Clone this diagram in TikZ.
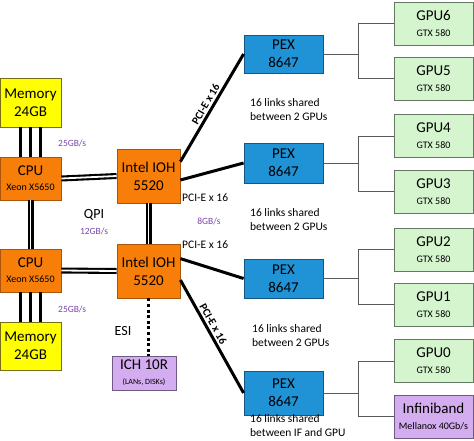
\documentclass[tikz,border=0pt]{standalone}
\usepackage{fontspec}
\setmainfont{Carlito}
\usetikzlibrary{calc}
\definecolor{orng}{RGB}{248,126,10}
\definecolor{orngd}{RGB}{170,85,10}
\definecolor{yel}{RGB}{255,255,0}
\definecolor{yeld}{RGB}{120,110,20}
\definecolor{pexb}{RGB}{32,146,214}
\definecolor{pexd}{RGB}{25,85,130}
\definecolor{gpug}{RGB}{213,245,206}
\definecolor{gpud}{RGB}{100,120,100}
\definecolor{ichp}{RGB}{212,172,240}
\definecolor{ichd}{RGB}{110,90,130}
\definecolor{purtxt}{RGB}{120,70,170}
\definecolor{treeg}{RGB}{90,90,90}
\newcommand\smtxt[1]{{\fontsize{10}{11}\selectfont #1}}
\newcommand\tnytxt[1]{{\fontsize{8}{10}\selectfont #1}}
\begin{document}
\begin{tikzpicture}[x=1pt,y=-1pt,
  bx/.style={draw, line width=0.8pt, inner sep=0pt, align=center, font=\fontsize{15}{18}\selectfont},
  orbox/.style={bx, fill=orng, draw=orngd},
  membox/.style={bx, fill=yel, draw=yeld, minimum width=61pt},
  pexbox/.style={bx, fill=pexb, draw=pexd, minimum width=79pt},
  gpubox/.style={bx, fill=gpug, draw=gpud, minimum width=79pt, minimum height=43pt, font=\fontsize{15}{16}\selectfont},
  ichbox/.style={bx, fill=ichp, draw=ichd},
  triple/.style={line width=2.7pt},
  dbl/.style={line width=2.1pt, double=white, double distance=1.8pt},
  pci/.style={line width=3pt},
  esi/.style={line width=3.5pt, dash pattern=on 3pt off 2.6pt},
  tree/.style={draw=treeg, line width=0.9pt},
  purp/.style={text=purtxt, font=\fontsize{9.5}{11}\selectfont, inner sep=0pt},
  lbl/.style={font=\fontsize{11.5}{14}\selectfont, inner sep=0pt, align=left},
  big/.style={font=\fontsize{14}{16}\selectfont, inner sep=0pt},
  rot/.style={font=\bfseries\fontsize{11}{12}\selectfont, sloped, above, inner sep=2pt}
]
\useasboundingbox (0,0) rectangle (474,440);

% left side boxes
\node[membox, minimum height=49pt] (memT) at (30.5,102.5) {Memory\\24GB};
\node[orbox, minimum width=61pt, minimum height=43pt] (cpuT) at (30.5,178.5) {CPU\\[-3pt]\smtxt{Xeon X5650}};
\node[orbox, minimum width=61pt, minimum height=43pt] (cpuB) at (30.5,270.5) {CPU\\[-3pt]\smtxt{Xeon X5650}};
\node[membox, minimum height=48pt] (memB) at (30.5,346) {Memory\\24GB};
\node[orbox, minimum width=63pt, minimum height=54pt] (iohT) at (148.5,176) {Intel IOH\\5520};
\node[orbox, minimum width=63pt, minimum height=54pt] (iohB) at (148.5,271) {Intel IOH\\5520};
\node[ichbox, minimum width=64pt, minimum height=34pt] (ich) at (144,373) {ICH 10R\\[-3pt]\tnytxt{(LANs, DISKs)}};

% PEX switches
\node[pexbox, minimum height=38pt] (pex1) at (283.5,54) {PEX\\8647};
\node[pexbox, minimum height=40pt] (pex2) at (283.5,163) {PEX\\8647};
\node[pexbox, minimum height=39pt] (pex3) at (283.5,278.5) {PEX\\8647};
\node[pexbox, minimum height=44pt] (pex4) at (283.5,393) {PEX\\8647};

% GPUs
\node[gpubox] (gpu6) at (433.5,23.5) {GPU6\\\smtxt{GTX 580}};
\node[gpubox] (gpu5) at (433.5,78.5) {GPU5\\\smtxt{GTX 580}};
\node[gpubox] (gpu4) at (433.5,136) {GPU4\\\smtxt{GTX 580}};
\node[gpubox] (gpu3) at (433.5,191.5) {GPU3\\\smtxt{GTX 580}};
\node[gpubox] (gpu2) at (433.5,249.5) {GPU2\\\smtxt{GTX 580}};
\node[gpubox] (gpu1) at (433.5,304.5) {GPU1\\\smtxt{GTX 580}};
\node[gpubox] (gpu0) at (433.5,361) {GPU0\\\smtxt{GTX 580}};
\node[gpubox, fill=ichp, draw=ichd] (ib) at (433.5,416.5) {Infiniband\\\smtxt{Mellanox 40Gb/s}};

% memory buses
\foreach \s in {-10,0,10} {
  \draw[triple] ([xshift=\s pt]memT.south) -- ([xshift=\s pt]cpuT.north);
  \draw[triple] ([xshift=\s pt]cpuB.south) -- ([xshift=\s pt]memB.north);
}
% QPI
\draw[dbl] (cpuT.east) -- (iohT.west);
\draw[dbl] (cpuB.east) -- (iohB.west);
\draw[dbl] (cpuT.south) -- (cpuB.north);
\draw[dbl] (iohT.south) -- (iohB.north);
% ESI
\draw[esi] (iohB.south) -- (iohB.south |- ich.north);

% PCI-E links
\draw[pci] ([yshift=-13pt]iohT.north east) -- node[rot, pos=0.5] (pcil1) {PCI-E x 16} (pex1.west);
\draw[pci] ([yshift=-4pt]iohT.east) -- (pex2.west);
\draw[pci] ([yshift=-15pt]iohB.north east) -- (pex3.west);
\draw[pci] ([yshift=-9pt]iohB.east) -- node[rot, pos=0.42] (pcil4) {PCI-E x 16} (pex4.west);

% trees
\draw[tree] (pex1.east) -- ++(35,0) coordinate (j1);
\draw[tree] (gpu6.west) -| (j1) |- (gpu5.west);
\draw[tree] (pex2.east) -- ++(35,0) coordinate (j2);
\draw[tree] (gpu4.west) -| (j2) |- (gpu3.west);
\draw[tree] (pex3.east) -- ++(35,0) coordinate (j3);
\draw[tree] (gpu2.west) -| (j3) |- (gpu1.west);
\draw[tree] (pex4.east) -- ++(35,0) coordinate (j4);
\draw[tree] (gpu0.west) -| (j4) |- (ib.west);

% labels
\node[purp, anchor=west] (r1) at (58,143) {25GB/s};
\node[purp, anchor=west] (r2) at (58,309) {25GB/s};
\node[big] (qpi) at (94,215) {QPI};
\node[purp] (r3) at (94,231) {12GB/s};
\node[lbl, anchor=west] (p1) at (182,198) {PCI-E x 16};
\node[purp] (r4) at (209,221) {8GB/s};
\node[lbl, anchor=west] (p2) at (182,245) {PCI-E x 16};
\node[big] (esi) at (123,331) {ESI};
\node[lbl, anchor=west] (s1) at (250,110) {16 links shared\\between 2 GPUs};
\node[lbl, anchor=west] (s2) at (250,220) {16 links shared\\between 2 GPUs};
\node[lbl, anchor=west] (s3) at (252,336) {16 links shared\\between 2 GPUs};
\node[lbl, anchor=west] (s4) at (250,426) {16 links shared\\between IF and GPU};
\end{tikzpicture}
\end{document}
